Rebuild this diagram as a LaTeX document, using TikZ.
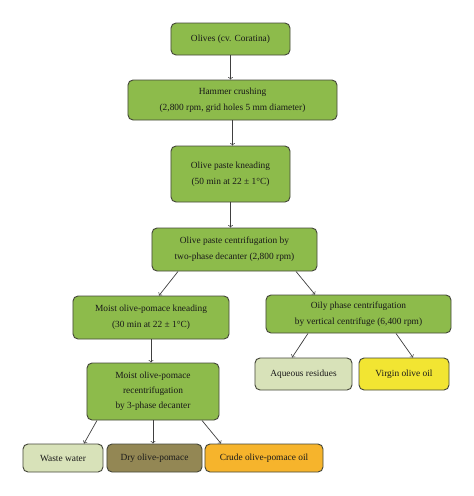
\documentclass[tikz,border=0pt]{standalone}
\usepackage{fontspec}
\setmainfont{Liberation Serif}
\usepackage{xcolor}
\usepackage{tikz}
\usetikzlibrary{arrows}

\definecolor{olivegreen}{HTML}{8DBB4B}
\definecolor{palegreen}{HTML}{D8E2B9}
\definecolor{pomace}{HTML}{938754}
\definecolor{crudeoil}{HTML}{F6B42C}
\definecolor{virgin}{HTML}{F2E532}
\definecolor{edge}{HTML}{45473A}

\begin{document}
\begin{tikzpicture}[x=0.03cm,y=-0.03cm,
  box/.style={draw=edge,line width=0.8pt,rounded corners=0.15cm,align=center,inner sep=0pt,
    text=black!90,font=\fontsize{8}{13.5}\selectfont},
  link/.style={->,>=to,draw=black!75,line width=0.6pt}]
\useasboundingbox (0,0) rectangle (474,496);
\node[box,fill=olivegreen,minimum width=3.57cm,minimum height=0.96cm] (olives) at (230.5,39) {Olives (cv. Coratina)};
\node[box,fill=olivegreen,minimum width=6.27cm,minimum height=1.2cm] (crush) at (232.5,100) {Hammer crushing\\(2,800 rpm, grid holes 5 mm diameter)};
\node[box,fill=olivegreen,minimum width=3.57cm,minimum height=1.68cm] (knead) at (230.5,174) {Olive paste kneading\\(50 min at 22 ± 1°C)};
\node[box,fill=olivegreen,minimum width=4.95cm,minimum height=1.29cm] (decanter) at (234.5,249.5) {Olive paste centrifugation by\\two-phase decanter (2,800 rpm)};
\node[box,fill=olivegreen,minimum width=4.68cm,minimum height=1.29cm] (pomknead) at (151,317.5) {Moist olive-pomace kneading\\(30 min at 22 ± 1°C)};
\node[box,fill=olivegreen,minimum width=5.55cm,minimum height=1.14cm] (oily) at (358.5,314) {Oily phase centrifugation\\by vertical centrifuge (6,400 rpm)};
\node[box,fill=palegreen,minimum width=2.91cm,minimum height=0.96cm] (aqueous) at (303.5,374) {Aqueous residues};
\node[box,fill=virgin,minimum width=2.7cm,minimum height=0.96cm] (virginoil) at (404,374) {Virgin olive oil};
\node[box,fill=olivegreen,minimum width=3.96cm,minimum height=1.71cm,font=\fontsize{8}{12.8}\selectfont] (recentri) at (153,391.5) {Moist olive-pomace\\recentrifugation\\by 3-phase decanter};
\node[box,fill=palegreen,minimum width=2.4cm,minimum height=0.84cm] (waste) at (63,458) {Waste water};
\node[box,fill=pomace,minimum width=2.85cm,minimum height=0.84cm] (dry) at (154.5,458) {Dry olive-pomace};
\node[box,fill=crudeoil,minimum width=3.54cm,minimum height=0.84cm] (crude) at (264,458) {Crude olive-pomace oil};

\draw[link] (olives.south) -- (olives.south |- crush.north);
\draw[link] (crush.south) -- (crush.south |- knead.north);
\draw[link] (knead.south) -- (knead.south |- decanter.north);
\draw[link] ([xshift=-1.695cm]decanter.south) -- ([xshift=0.24cm]pomknead.north);
\draw[link] ([xshift=1.845cm]decanter.south) -- ([xshift=-1.305cm]oily.north);
\draw[link] (pomknead.south) -- (pomknead.south |- recentri.north);
\draw[link] ([xshift=-1.515cm]oily.south) -- ([xshift=-0.345cm]aqueous.north);
\draw[link] ([xshift=1.125cm]oily.south) -- ([xshift=0.27cm]virginoil.north);
\draw[link] ([xshift=-1.68cm]recentri.south) -- ([xshift=0.63cm]waste.north);
\draw[link] (recentri.south) -- (recentri.south |- dry.north);
\draw[link] ([xshift=1.47cm]recentri.south) -- ([xshift=-1.29cm]crude.north);
\end{tikzpicture}
\end{document}
